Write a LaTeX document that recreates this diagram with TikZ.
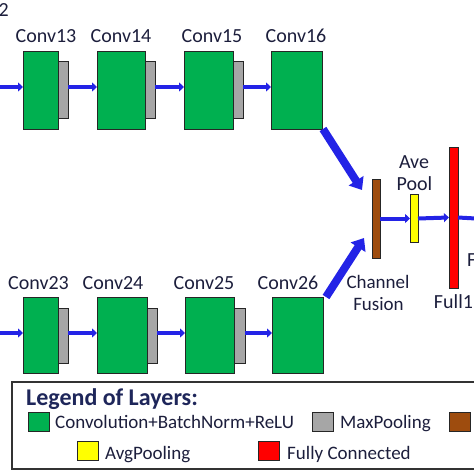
\documentclass[tikz,border=0pt]{standalone}
\usepackage{fontspec}
\setmainfont{Carlito}
\usetikzlibrary{arrows.meta}
\definecolor{cgreen}{RGB}{0,176,80}
\definecolor{cgray}{RGB}{166,166,166}
\definecolor{cbrown}{RGB}{158,76,14}
\definecolor{cyellow}{RGB}{255,255,0}
\definecolor{cred}{RGB}{255,0,0}
\definecolor{cblue}{RGB}{35,35,230}
\definecolor{txt}{RGB}{28,30,60}
\definecolor{navy}{RGB}{30,38,90}
\begin{document}
\begin{tikzpicture}[x=1pt,y=-1pt,
  blk/.style={draw=black!85,line width=0.8pt,inner sep=0pt,outer sep=0pt},
  conv/.style={blk,fill=cgreen,minimum height=#1},
  pool/.style={blk,fill=cgray,minimum width=10pt,minimum height=#1},
  bar/.style={blk,minimum width=8pt},
  lab/.style={font=\fontsize{20}{24}\selectfont,text=txt,inner sep=0pt,anchor=base},
  slab/.style={font=\fontsize{19}{23}\selectfont,text=txt,inner sep=0pt,anchor=base},
  ltxt/.style={font=\fontsize{19}{23}\selectfont,text=txt,inner sep=0pt,anchor=base west},
  lsq/.style={blk,minimum width=21pt,minimum height=19pt},
  harrow/.style={cblue,line width=4pt,-{Triangle[length=5pt,width=9pt]}},
  darrow/.style={cblue,line width=8pt,-{Triangle[length=11pt,width=17pt]}},
  plain/.style={cblue,line width=4pt}
]
\useasboundingbox (0,0) rectangle (474,474);
\clip (0,0) rectangle (474,474);

% top-left partial label
\node[lab,anchor=base west] (t2) at (-1.5,16) {2};

% top row
\node[pool=57pt] (p13) at (63,89.5) {};
\node[conv=78pt,minimum width=35pt] (c13) at (40.5,90) {};
\node[pool=57pt] (p14) at (150,89.5) {};
\node[conv=78pt,minimum width=48pt] (c14) at (121,90) {};
\node[pool=57pt] (p15) at (238,89.5) {};
\node[conv=78pt,minimum width=49pt] (c15) at (208.5,90) {};
\node[conv=78pt,minimum width=51pt] (c16) at (296.5,90) {};
\node[lab] (l13) at (46,42) {Conv13};
\node[lab] (l14) at (121,42) {Conv14};
\node[lab] (l15) at (212,42) {Conv15};
\node[lab] (l16) at (296,42) {Conv16};

% bottom row
\node[pool=55pt] (p23) at (63,335.5) {};
\node[conv=76pt,minimum width=35pt] (c23) at (40.5,335) {};
\node[pool=55pt] (p24) at (152,335.5) {};
\node[conv=76pt,minimum width=50pt] (c24) at (122,335) {};
\node[pool=55pt,minimum width=11pt] (p25) at (239.5,335.5) {};
\node[conv=76pt,minimum width=49pt] (c25) at (209.5,335) {};
\node[conv=76pt,minimum width=51pt] (c26) at (297.5,335) {};
\node[lab] (l23) at (38.5,289) {Conv23};
\node[lab] (l24) at (113,289) {Conv24};
\node[lab] (l25) at (204,289) {Conv25};
\node[lab] (l26) at (288,289) {Conv26};

% fusion / pooling / fc
\node[bar,fill=cbrown,minimum height=79pt] (cf) at (376,218.5) {};
\node[bar,fill=cyellow,minimum height=48pt] (ap) at (414,218.5) {};
\node[bar,fill=cred,minimum width=9pt,minimum height=141pt] (f1) at (453.5,217.5) {};
\node[lab] (lave) at (414,168) {Ave};
\node[lab] (lpool) at (414.5,190) {Pool};
\node[slab] (lch) at (378,288) {Channel};
\node[slab] (lfu) at (378.5,310) {Fusion};
\node[lab] (lf1) at (453.5,308) {Full1};
\node[lab,anchor=base west] (lf2) at (467,266) {F};

% connectors
\coordinate (in1) at (0,87);
\coordinate (in2) at (0,333);
\coordinate (out) at (476,218.5);
\coordinate (t1) at (362,190);
\coordinate (t2b) at (364,238);

\draw[harrow] (in1) -- ([yshift=3pt]c13.west);
\draw[harrow] ([yshift=2.5pt]p13.east) -- ([yshift=3pt]c14.west);
\draw[harrow] ([yshift=2.5pt]p14.east) -- ([yshift=3pt]c15.west);
\draw[harrow] ([yshift=2.5pt]p15.east) -- ([yshift=3pt]c16.west);

\draw[harrow] (in2) -- ([yshift=2pt]c23.west);
\draw[harrow] ([yshift=2.5pt]p23.east) -- ([yshift=2pt]c24.west);
\draw[harrow] ([yshift=2.5pt]p24.east) -- ([yshift=2pt]c25.west);
\draw[harrow] ([yshift=2.5pt]p25.east) -- ([yshift=2pt]c26.west);

\draw[darrow] ([xshift=1pt]c16.south east) -- (t1);
\draw[darrow] ([xshift=3pt]c26.north east) -- (t2b);

\draw[harrow] (cf.east) -- (ap.west);
\draw[harrow] (ap.east) -- (f1.west);
\draw[plain] (f1.east) -- (out);

% legend
\draw[draw=black!80,line width=1.6pt] (12,382) rectangle (490,469);
\node[font=\fontsize{24}{28}\selectfont\bfseries,text=navy,inner sep=0pt,anchor=base west] (lt) at (26,405) {Legend of Layers:};
\node[lsq,fill=cgreen] (lg1) at (39,422) {};
\node[ltxt] (lgt1) at (55,428) {Convolution+BatchNorm+ReLU};
\node[lsq,fill=cgray] (lg2) at (322.5,422) {};
\node[ltxt] (lgt2) at (340,428) {MaxPooling};
\node[lsq,fill=cbrown] (lg3) at (460,422) {};
\node[lsq,fill=cyellow] (lg4) at (88,451) {};
\node[ltxt] (lgt4) at (105,459) {AvgPooling};
\node[lsq,fill=cred] (lg5) at (268.5,451) {};
\node[ltxt] (lgt5) at (287,459) {Fully Connected};
\end{tikzpicture}
\end{document}
